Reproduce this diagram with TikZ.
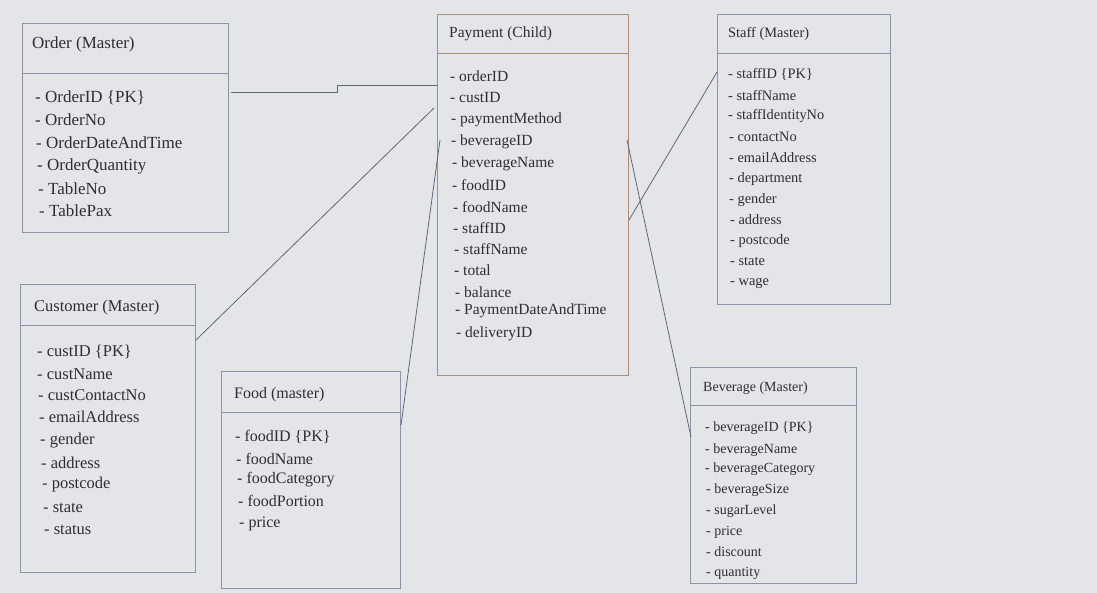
\documentclass[tikz,border=0pt]{standalone}
\usepackage{fontspec}
\setmainfont{Liberation Serif}
\usetikzlibrary{calc}
\definecolor{bg}{HTML}{E4E5E8}
\definecolor{boxline}{HTML}{8A93A8}
\definecolor{payline}{HTML}{A89078}
\definecolor{linkline}{HTML}{5E6678}
\definecolor{ink}{HTML}{2E2E30}
\begin{document}
\begin{tikzpicture}[x=1pt,y=-1pt,
      box/.style={draw=boxline, line width=1pt, anchor=north west, inner sep=0pt},
      pbox/.style={box, draw=payline},
      a/.style={anchor=west, inner sep=0pt, text=ink, font=\fontsize{#1}{#1}\selectfont},
      l/.style={draw=linkline, line width=0.8pt}]
      \useasboundingbox[fill=bg] (0,0) rectangle (1097,593);
      % entity boxes
      \node[box, minimum width=206pt, minimum height=209pt] (order) at (22,23) {};
      \node[pbox, minimum width=191pt, minimum height=361pt] (pay) at (437,14) {};
      \node[box, minimum width=173pt, minimum height=290pt] (staff) at (717,14) {};
      \node[box, minimum width=175pt, minimum height=288pt] (cust) at (20,284) {};
      \node[box, minimum width=179pt, minimum height=217pt] (food) at (221,371) {};
      \node[box, minimum width=166pt, minimum height=216pt] (bev) at (690,367) {};
      \draw[draw=boxline, line width=1pt] ($(order.north west)+(0,51)$) -- ($(order.north east)+(0,51)$);
      \draw[draw=payline, line width=1pt] ($(pay.north west)+(0,40)$) -- ($(pay.north east)+(0,40)$);
      \draw[draw=boxline, line width=1pt] ($(staff.north west)+(0,40)$) -- ($(staff.north east)+(0,40)$);
      \draw[draw=boxline, line width=1pt] ($(cust.north west)+(0,42)$) -- ($(cust.north east)+(0,42)$);
      \draw[draw=boxline, line width=1pt] ($(food.north west)+(0,41)$) -- ($(food.north east)+(0,41)$);
      \draw[draw=boxline, line width=1pt] ($(bev.north west)+(0,38)$) -- ($(bev.north east)+(0,38)$);
      % Order
      \node[a=17] (ot) at (32,44) {Order (Master)};
      \node[a=17] (o1) at (35,98) {- OrderID \{PK\}};
      \node[a=17] (o2) at (35,120) {- OrderNo};
      \node[a=17] (o3) at (36,143) {- OrderDateAndTime};
      \node[a=17] (o4) at (37,166) {- OrderQuantity};
      \node[a=17] (o5) at (38,189) {- TableNo};
      \node[a=17] (o6) at (39,211) {- TablePax};
      % Payment
      \node[a=15.5] (pt) at (449,34) {Payment (Child)};
      \node[a=15.5] (p1) at (450,76) {- orderID};
      \node[a=15.5] (p2) at (450,98) {- custID};
      \node[a=15.5] (p3) at (451,120) {- paymentMethod};
      \node[a=15.5] (p4) at (451,142) {- beverageID};
      \node[a=15.5] (p5) at (452,164) {- beverageName};
      \node[a=15.5] (p6) at (452,185) {- foodID};
      \node[a=15.5] (p7) at (453,207) {- foodName};
      \node[a=15.5] (p8) at (453,228) {- staffID};
      \node[a=15.5] (p9) at (454,249) {- staffName};
      \node[a=15.5] (p10) at (454,270) {- total};
      \node[a=15.5] (p11) at (455,292) {- balance};
      \node[a=15.5] (p12) at (455,311) {- PaymentDateAndTime};
      \node[a=15.5] (p13) at (456,334) {- deliveryID};
      % Staff
      \node[a=14.4] (st) at (728,34) {Staff (Master)};
      \node[a=14.4] (s1) at (728,74) {- staffID \{PK\}};
      \node[a=14.4] (s2) at (728,96) {- staffName};
      \node[a=14.4] (s3) at (728,116) {- staffIdentityNo};
      \node[a=14.4] (s4) at (729,137) {- contactNo};
      \node[a=14.4] (s5) at (729,158) {- emailAddress};
      \node[a=14.4] (s6) at (729,179) {- department};
      \node[a=14.4] (s7) at (729,200) {- gender};
      \node[a=14.4] (s8) at (730,220) {- address};
      \node[a=14.4] (s9) at (730,241) {- postcode};
      \node[a=14.4] (s10) at (730,262) {- state};
      \node[a=14.4] (s11) at (730,283) {- wage};
      % Customer
      \node[a=16.5] (ct) at (34,308) {Customer (Master)};
      \node[a=16.5] (c1) at (37,352) {- custID \{PK\}};
      \node[a=16.5] (c2) at (37,374) {- custName};
      \node[a=16.5] (c3) at (38,395) {- custContactNo};
      \node[a=16.5] (c4) at (39,417) {- emailAddress};
      \node[a=16.5] (c5) at (40,441) {- gender};
      \node[a=16.5] (c6) at (41,463) {- address};
      \node[a=16.5] (c7) at (42,485) {- postcode};
      \node[a=16.5] (c8) at (43,508) {- state};
      \node[a=16.5] (c9) at (44,530) {- status};
      % Food
      \node[a=16] (ft) at (234,395) {Food (master)};
      \node[a=16] (f1) at (235,437) {- foodID \{PK\}};
      \node[a=16] (f2) at (236,459) {- foodName};
      \node[a=16] (f3) at (237,480) {- foodCategory};
      \node[a=16] (f4) at (238,501) {- foodPortion};
      \node[a=16] (f5) at (239,524) {- price};
      % Beverage
      \node[a=14] (bt) at (703,388) {Beverage (Master)};
      \node[a=14] (b1) at (705,428) {- beverageID \{PK\}};
      \node[a=14] (b2) at (705,450) {- beverageName};
      \node[a=14] (b3) at (705,469) {- beverageCategory};
      \node[a=14] (b4) at (706,490) {- beverageSize};
      \node[a=14] (b5) at (706,511) {- sugarLevel};
      \node[a=14] (b6) at (706,532) {- price};
      \node[a=14] (b7) at (706,552) {- discount};
      \node[a=14] (b8) at (706,573) {- quantity};
      % links
      \draw[l] ($(order.east |- o1)+(2,-6)$) -- ++(106,0) |- ($(pay.west |- p1)+(0,9)$);
      \draw[l] ($(cust.east |- c1)+(0,-12)$) -- ($(pay.west |- p2)+(-3,10)$);
      \draw[l] ($(food.east |- f1)+(0,-12)$) -- ($(pay.west |- p4)+(3,-2)$);
      \draw[l] ($(pay.east |- p8)+(0,-8)$) -- ($(staff.west |- s1)+(0,-2)$);
      \draw[l] ($(pay.east |- p4)+(-2,-2)$) -- ($(bev.west |- b1)+(1,9)$);
  \end{tikzpicture}
\end{document}
